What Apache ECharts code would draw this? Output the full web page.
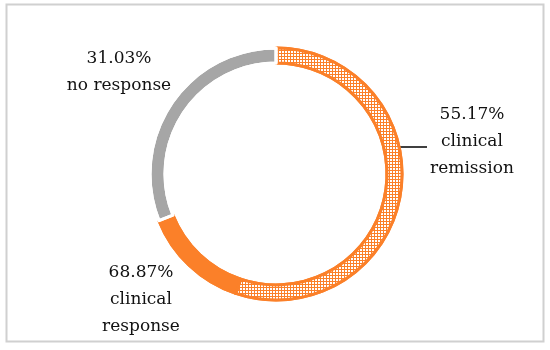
<!DOCTYPE html>
<html>
<head>
<meta charset="utf-8">
<script src="https://cdn.jsdelivr.net/npm/echarts@6/dist/echarts.min.js"></script>
<style>html,body{margin:0;padding:0;background:#fff}#c{width:550px;height:350px}</style>
</head>
<body>
<div id="c"></div>
<script>
const categories = ['clinical remission', 'clinical response', 'no response'];
const values = [55.17, 13.80, 31.03];
const percentLabels = ['55.17%', '68.87%', '31.03%'];
const labelLines = [['55.17%', 'clinical', 'remission'], ['68.87%', 'clinical', 'response'], ['31.03%', 'no response']];

const ORANGE = '#fb8029';
const GRAY = '#a6a6a6';
const labelAnchors = [
  { x: 472, y: 142, line: [[393, 147], [427, 147]] },
  { x: 141, y: 300 },
  { x: 119, y: 72 }
];

const chart = echarts.init(document.getElementById('c'), null, { renderer: 'canvas' });

const styles = [
  { color: ORANGE, borderColor: ORANGE, borderWidth: 3,
    decal: { symbol: 'rect', symbolSize: 1, color: '#ffffff', dashArrayX: [2, 1], dashArrayY: [2, 1], rotation: 0 } },
  { color: ORANGE, borderColor: ORANGE, borderWidth: 3, decal: { symbol: 'none' } },
  { color: GRAY, borderColor: '#ffffff', borderWidth: 3, decal: { symbol: 'none' } }
];

const data = categories.map((name, i) => ({
  name: name,
  value: values[i],
  itemStyle: styles[i],
  label: { formatter: labelLines[i].join('\n') },
  labelLine: { show: i === 0 }
}));

chart.setOption({
  backgroundColor: '#ffffff',
  animation: false,
  aria: { enabled: false, decal: { show: true } },
  graphic: [{
    type: 'rect',
    shape: { x: 6.5, y: 4.5, width: 537, height: 337 },
    style: { fill: 'none', stroke: '#d0d0d0', lineWidth: 2 },
    silent: true
  }],
  series: [{
    type: 'pie',
    center: [276, 174],
    radius: [111, 126],
    startAngle: 90,
    clockwise: true,
    avoidLabelOverlap: false,
    data: data,
    label: {
      show: true,
      position: 'outside',
      fontFamily: 'DejaVu Serif',
      fontSize: 17,
      lineHeight: 27,
      color: '#111111',
      align: 'center'
    },
    labelLine: {
      show: true,
      lineStyle: { color: '#000000', width: 1.5 }
    },
    labelLayout: function (params) {
      const a = labelAnchors[params.dataIndex];
      const res = { x: a.x, y: a.y, align: 'center', verticalAlign: 'middle' };
      if (a.line) res.labelLinePoints = [a.line[0], a.line[1], a.line[1]];
      return res;
    },
    emphasis: { disabled: true }
  }]
});
</script>
</body>
</html>
